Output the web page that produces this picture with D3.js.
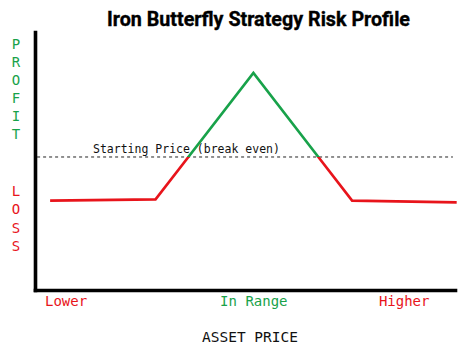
<!DOCTYPE html>
<html>
<head>
<meta charset="utf-8">
<script src="https://cdn.jsdelivr.net/npm/d3@7"></script>
<style>
  html, body { margin: 0; padding: 0; background: #fff; }
  svg { display: block; }
</style>
</head>
<body>
<svg id="chart" width="474" height="349"></svg>
<script>
// Payoff profile of an iron butterfly: asset price (relative units) vs profit/loss
const assetPrice = [3.6, 28.7, 52, 75.5, 100.4];
const profitLoss = [-1.04, -1.01, 2.0, -1.04, -1.08];

// Price regions named along the horizontal axis
const regionLabels = ["Lower", "In Range", "Higher"];
const regionCenters = [7.4, 52.1, 87.9];
const regionKinds = ["loss", "profit", "loss"];

const breakEven = 0;
const breakEvenLabel = "Starting Price (break even)";
const title = "Iron Butterfly Strategy Risk Profile";
const xTitle = "ASSET PRICE";
const profitWord = "PROFIT";
const lossWord = "LOSS";

const GREEN = "#18a24a";
const RED = "#e8141b";
const MONO = "'DejaVu Sans Mono', 'Liberation Mono', monospace";

const svg = d3.select("#chart");
const plot = { left: 35, right: 455, top: 32, bottom: 290 };

const x = d3.scaleLinear().domain([0, 100]).range([plot.left, plot.right]);
const y = d3.scaleLinear().domain([-3.167, 2.976]).range([plot.bottom, plot.top]);

// Title
svg.append("text")
  .attr("x", 258.5).attr("y", 26)
  .attr("text-anchor", "middle")
  .attr("font-family", "'Liberation Sans Narrow', 'Roboto', sans-serif")
  .attr("font-weight", "bold")
  .attr("font-size", 19.3)
  .attr("textLength", 303)
  .attr("lengthAdjust", "spacingAndGlyphs")
  .attr("fill", "#000")
  .attr("stroke", "#000").attr("stroke-width", 0.35)
  .text(title);

// Break-even dashed reference line
svg.append("line")
  .attr("x1", x(0.5)).attr("x2", x(99.5))
  .attr("y1", y(breakEven)).attr("y2", y(breakEven))
  .attr("stroke", "#222").attr("stroke-width", 1)
  .attr("stroke-dasharray", "3,3");

svg.append("text")
  .attr("x", 93).attr("y", y(breakEven) - 4)
  .attr("font-family", MONO)
  .attr("font-size", 11.5)
  .attr("fill", "#111")
  .text(breakEvenLabel);

// Payoff line, coloured green above break-even and red below
const pts = assetPrice.map((p, i) => [p, profitLoss[i]]);
const line = d3.line().x(d => x(d[0])).y(d => y(d[1]));

const defs = svg.append("defs");
defs.append("clipPath").attr("id", "above")
  .append("rect").attr("x", 0).attr("y", 0)
  .attr("width", 474).attr("height", y(breakEven));
defs.append("clipPath").attr("id", "below")
  .append("rect").attr("x", 0).attr("y", y(breakEven))
  .attr("width", 474).attr("height", 349 - y(breakEven));

svg.append("path").datum(pts)
  .attr("d", line).attr("fill", "none")
  .attr("stroke", GREEN).attr("stroke-width", 2.6)
  .attr("clip-path", "url(#above)");
svg.append("path").datum(pts)
  .attr("d", line).attr("fill", "none")
  .attr("stroke", RED).attr("stroke-width", 2.6)
  .attr("clip-path", "url(#below)");

// Axes drawn as heavy plain rules
const yAxis = d3.axisLeft(y).tickValues([]).tickSizeOuter(0);
const xAxis = d3.axisBottom(x).tickValues([]).tickSizeOuter(0);
const gy = svg.append("g").attr("transform", `translate(${plot.left},0)`).call(yAxis);
const gx = svg.append("g").attr("transform", `translate(0,${plot.bottom})`).call(xAxis);
[gy, gx].forEach(g => g.select(".domain")
  .attr("stroke", "#000").attr("stroke-width", 3.6).attr("stroke-linecap", "square"));

// Vertical PROFIT / LOSS captions
profitWord.split("").forEach((ch, i) => {
  svg.append("text")
    .attr("x", 16).attr("y", 49 + i * 18)
    .attr("text-anchor", "middle")
    .attr("font-family", MONO).attr("font-size", 14)
    .attr("fill", GREEN).text(ch);
});
lossWord.split("").forEach((ch, i) => {
  svg.append("text")
    .attr("x", 16).attr("y", 196 + i * 18.3)
    .attr("text-anchor", "middle")
    .attr("font-family", MONO).attr("font-size", 14)
    .attr("fill", RED).text(ch);
});

// Region labels under the axis
regionLabels.forEach((lab, i) => {
  svg.append("text")
    .attr("x", x(regionCenters[i])).attr("y", 306)
    .attr("text-anchor", "middle")
    .attr("font-family", MONO).attr("font-size", 14)
    .attr("fill", regionKinds[i] === "profit" ? GREEN : RED)
    .text(lab);
});

// Horizontal axis title
svg.append("text")
  .attr("x", 250).attr("y", 342)
  .attr("text-anchor", "middle")
  .attr("font-family", MONO).attr("font-size", 14.5)
  .attr("fill", "#111")
  .text(xTitle);
</script>
</body>
</html>
